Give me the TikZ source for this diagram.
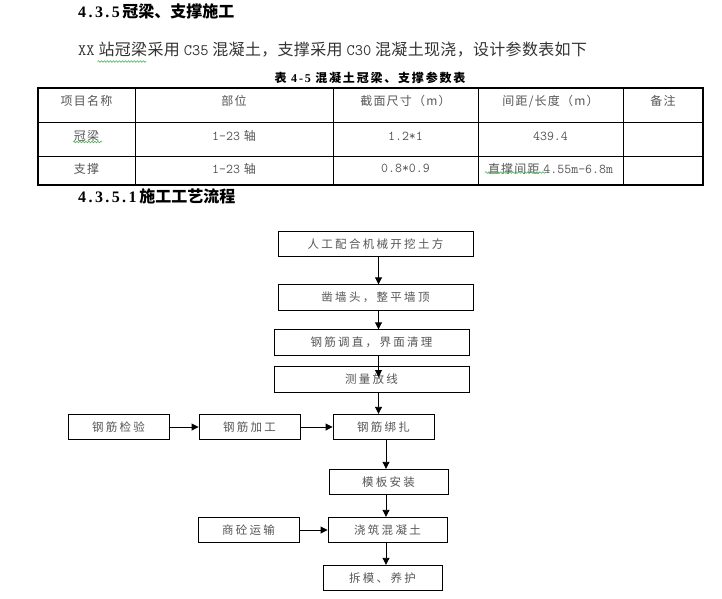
\documentclass[tikz,border=0pt]{standalone}
\usepackage{fontspec}
\setmainfont{Liberation Serif}
\newfontfamily\cjk{Noto Sans CJK SC}
\newfontfamily\cjkpar[LetterSpace=2]{Noto Sans CJK SC}
\newfontfamily\cjkcap[LetterSpace=15]{Noto Sans CJK SC}
\newfontfamily\cjktab[LetterSpace=10]{Noto Sans CJK SC}
\newfontfamily\cjkwide[LetterSpace=20]{Noto Sans CJK SC}
\newfontfamily\latmono{Latin Modern Mono}
\newfontfamily\latbold[LetterSpace=15]{Liberation Serif}
\newcommand{\lat}[1]{{\latmono #1}}
\newcommand{\numbold}[1]{{\latbold\bfseries #1}}
\newcommand{\tnum}[1]{{\fontsize{13.5}{14}\latmono #1}}
\usepackage{tikz}
\usetikzlibrary{positioning,arrows.meta,calc,decorations.pathmorphing}
\definecolor{inkc}{HTML}{555555}
\definecolor{textc}{HTML}{333333}
\definecolor{spellc}{HTML}{4CAF50}
\newcommand{\tabcell}[4]{%
  \node[tabtext] (#1) at (#2,#3) {#4};
}
\tikzset{
  plain/.style={inner sep=0pt,anchor=west},
  tabtext/.style={inner sep=0pt,text=inkc,font=\fontsize{12}{14}\cjktab},
  flowbox/.style={draw=black,line width=0.9pt,minimum height=25.5pt,inner sep=0pt,
    text=inkc,font=\fontsize{11.5}{12}\cjkwide},
  flowarrow/.style={-{Triangle[length=7pt,width=7pt]},line width=0.9pt},
  squiggle/.style={spellc,line width=0.6pt,decorate,
    decoration={snake,amplitude=0.8pt,segment length=3pt}},
}

\begin{document}
\begin{tikzpicture}[x=1pt,y=-1pt]
  \useasboundingbox (0,0) rectangle (722,598);

  % headings and intro text
  \node[plain,font=\fontsize{16}{18}\bfseries\cjk] (head) at (78,11) {\numbold{4.3.5}\,冠梁、支撑施工};
  \node[plain,text=textc,font=\fontsize{16}{18}\cjkpar] (intro) at (78,49.5)
    {\lat{XX} 站冠梁采用 \lat{C35} 混凝土，支撑采用 \lat{C30} 混凝土现浇，设计参数表如下};
  \draw[squiggle] (97.5,61.5) -- (146,61.5);
  \node[inner sep=0pt,font=\fontsize{12}{14}\bfseries\cjkcap] (cap) at (370,78)
    {表 \numbold{4-5} 混凝土冠梁、支撑参数表};

  % table
  \foreach \x in {135,333,478,623} { \draw[line width=0.8pt] (\x,88) -- (\x,185); }
  \foreach \y in {122,156} { \draw[line width=0.8pt] (38,\y) -- (703,\y); }
  \draw[line width=2.2pt] (38,88) rectangle (703,185);

  \tabcell{h1}{86.5}{101}{项目名称}
  \tabcell{h2}{234}{101}{部位}
  \tabcell{h3}{405.5}{101}{截面尺寸（m）}
  \tabcell{h4}{550.5}{101}{间距/长度（m）}
  \tabcell{h5}{663}{101}{备注}

  \tabcell{a1}{86.5}{136}{冠梁}
  \tabcell{a2}{234}{136}{\tnum{1-23} 轴}
  \tabcell{a3}{405.5}{136}{\tnum{1.2*1}}
  \tabcell{a4}{550.5}{136}{\tnum{439.4}}
  \draw[squiggle] (73,142) -- (102,142);

  \tabcell{b1}{86.5}{168.5}{支撑}
  \tabcell{b2}{234}{168.5}{\tnum{1-23} 轴}
  \tabcell{b3}{405.5}{168.5}{\tnum{0.8*0.9}}
  \tabcell{b4}{550.5}{168.5}{直撑间距 \tnum{4.55m-6.8m}}
  \draw[squiggle] (485,172.5) -- (546,172.5);

  \node[plain,font=\fontsize{16}{18}\bfseries\cjk] (flowhead) at (78,196) {\numbold{4.3.5.1}\,施工工艺流程};

  % flow chart
  \coordinate (colA) at (378.5,0);
  \coordinate (colB) at (386,0);
  \node[flowbox,minimum width=195pt] (dig) at (375.5,244) {人工配合机械开挖土方};
  \node[flowbox,minimum width=195pt] (trim) at (375.5,297.5) {凿墙头，整平墙顶};
  \node[flowbox,minimum width=195pt] (clean) at (371.5,342.5) {钢筋调直，界面清理};
  \node[flowbox,minimum width=195pt] (survey) at (371.5,379.5) {测量放线};
  \node[flowbox,minimum width=101pt] (tie) at (383.5,427) {钢筋绑扎};
  \node[flowbox,minimum width=101pt] (check) at (118.5,427) {钢筋检验};
  \node[flowbox,minimum width=101pt] (process) at (249.5,427) {钢筋加工};
  \node[flowbox,minimum width=119pt] (form) at (388.5,482) {模板安装};
  \node[flowbox,minimum width=101pt] (haul) at (248.5,530) {商砼运输};
  \node[flowbox,minimum width=119pt] (pour) at (387.5,530) {浇筑混凝土};
  \node[flowbox,minimum width=119pt] (cure) at (382.5,578) {拆模、养护};

  \draw[flowarrow] (dig.south -| colA) -- (trim.north -| colA);
  \draw[flowarrow] (trim.south -| colA) -- (clean.north -| colA);
  \draw[flowarrow] (clean.south -| colA) -- ([yshift=2.5pt]survey.center -| colA);
  \draw[flowarrow] (survey.south -| colA) -- (tie.north -| colA);
  \draw[flowarrow] (check.east) -- (process.west);
  \draw[flowarrow] (process.east) -- (tie.west);
  \draw[flowarrow] (tie.south -| colB) -- (form.north -| colB);
  \draw[flowarrow] (form.south -| colB) -- (pour.north -| colB);
  \draw[flowarrow] (haul.east) -- (pour.west);
  \draw[flowarrow] (pour.south -| colB) -- (cure.north -| colB);
\end{tikzpicture}
\end{document}
